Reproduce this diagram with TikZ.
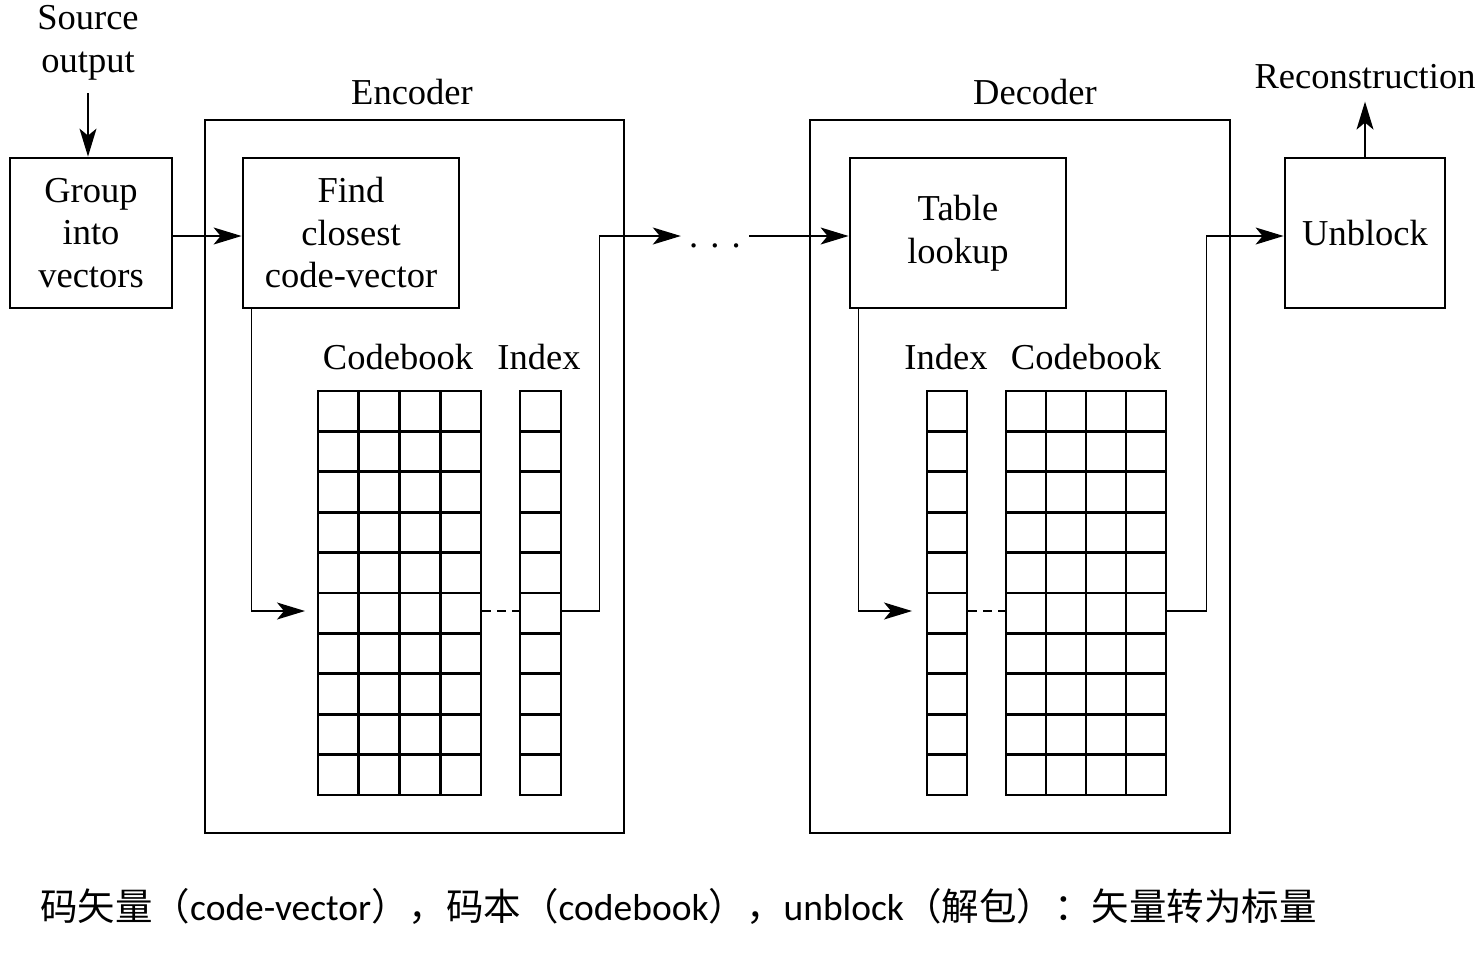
\documentclass[tikz,border=0pt]{standalone}
\usepackage{fontspec}
\setmainfont{Liberation Serif}
\newfontfamily\cjk{Noto Sans CJK SC}
\newfontfamily\lat{Carlito}
\usetikzlibrary{arrows.meta}
\newcommand{\fs}{\fontsize{36.5}{42.5}\selectfont}
\begin{document}
\begin{tikzpicture}[x=1pt,y=-1pt,
  box/.style={draw, line width=2.8pt, inner sep=0pt, align=center, font=\fs},
  frame/.style={draw, line width=2.8pt, inner sep=0pt},
  gridbox/.style={draw, line width=2.8pt, inner sep=0pt},
  gl/.style={line width=2.8pt},
  lbl/.style={font=\fs, inner sep=0pt, align=center},
  conn/.style={line width=1.5pt},
  arr/.style={conn, -{Stealth[length=28pt,width=17pt,inset=7pt]}},
  dashline/.style={conn, dash pattern=on 9pt off 6pt}]
\useasboundingbox (0,0) rectangle (1482,954);

% outer frames
\node[frame, minimum width=419pt, minimum height=713pt] (enc) at (414.5,476.5) {};
\node[frame, minimum width=420pt, minimum height=713pt] (dec) at (1020,476.5) {};
\node[lbl] (enclbl) at (412,92) {Encoder};
\node[lbl] (declbl) at (1035,92) {Decoder};

% boxes
\node[box, minimum width=162pt, minimum height=150pt] (grp) at (91,233) {Group\\into\\vectors};
\node[box, minimum width=216pt, minimum height=150pt] (find) at (351,233) {Find\\closest\\code-vector};
\node[box, minimum width=216pt, minimum height=150pt] (tab) at (958,233) {Table\\lookup};
\node[box, minimum width=160pt, minimum height=150pt] (unb) at (1365,233) {Unblock};

% labels
\node[lbl] (src) at (88,43) {Source\\output};
\node[lbl] (rec) at (1365,77) {Reconstruction};
\node[lbl] (ecbl) at (398,357) {Codebook};
\node[lbl] (eidxl) at (539,357) {Index};
\node[lbl] (didxl) at (946,357) {Index};
\node[lbl] (dcbl) at (1086,357) {Codebook};

% grids
\node[gridbox, minimum width=163pt, minimum height=404pt] (ecb) at (399.5,593) {};
\node[gridbox, minimum width=41pt, minimum height=404pt] (eidx) at (540.5,593) {};
\node[gridbox, minimum width=40pt, minimum height=404pt] (didx) at (947,593) {};
\node[gridbox, minimum width=160pt, minimum height=404pt] (dcb) at (1086,593) {};
\foreach \i in {1,2,3} {
  \draw[gl] ({318+\i*163/4},391) -- ({318+\i*163/4},795);
  \draw[gl] ({1006+\i*160/4},391) -- ({1006+\i*160/4},795);
}
\foreach \j in {1,...,9} {
  \draw[gl] (318,{391+\j*40.4}) -- (481,{391+\j*40.4});
  \draw[gl] (520,{391+\j*40.4}) -- (561,{391+\j*40.4});
  \draw[gl] (927,{391+\j*40.4}) -- (967,{391+\j*40.4});
  \draw[gl] (1006,{391+\j*40.4}) -- (1166,{391+\j*40.4});
}

% helper coordinates
\coordinate (er) at (0,611);
\coordinate (etip) at (305,611);
\coordinate (dtip) at (912,611);
\coordinate (srcstart) at (0,93);
\coordinate (row) at (0,236);

% dots
\node[inner sep=0pt, minimum width=68pt, minimum height=20pt] (dots) at (715,236) {};
\node[font=\fs, anchor=base, inner sep=0pt] (dotstxt) at (715,247) {. . .};

% connectors
\draw[arr] (src.south |- srcstart) -- (src.south |- grp.north);
\draw[arr] (grp.east |- row) -- (find.west |- row);
\draw[arr] ([xshift=10pt]find.south west) |- (etip);
\draw[dashline] (ecb.east |- er) -- (eidx.west |- er);
\draw[arr] (eidx.east |- er) -- ++(37,0) |- (dots.west);
\draw[arr] (dots.east) -- (tab.west |- dots.east);
\draw[arr] ([xshift=10pt]tab.south west) |- (dtip);
\draw[dashline] (didx.east |- er) -- (dcb.west |- er);
\draw[arr] (dcb.east |- er) -- ++(39,0) |- (unb.west |- dots.east);
\draw[arr] (unb.north) -- ++(0,-55);

% caption
\node[anchor=base west, inner sep=0pt, font=\fontsize{37.5}{40}\selectfont] (cap) at (40,920)
 {\cjk 码矢量（\lat code-vector\cjk ），码本（\lat codebook\cjk ），\lat unblock\cjk （解包）：矢量转为标量};
\end{tikzpicture}
\end{document}
